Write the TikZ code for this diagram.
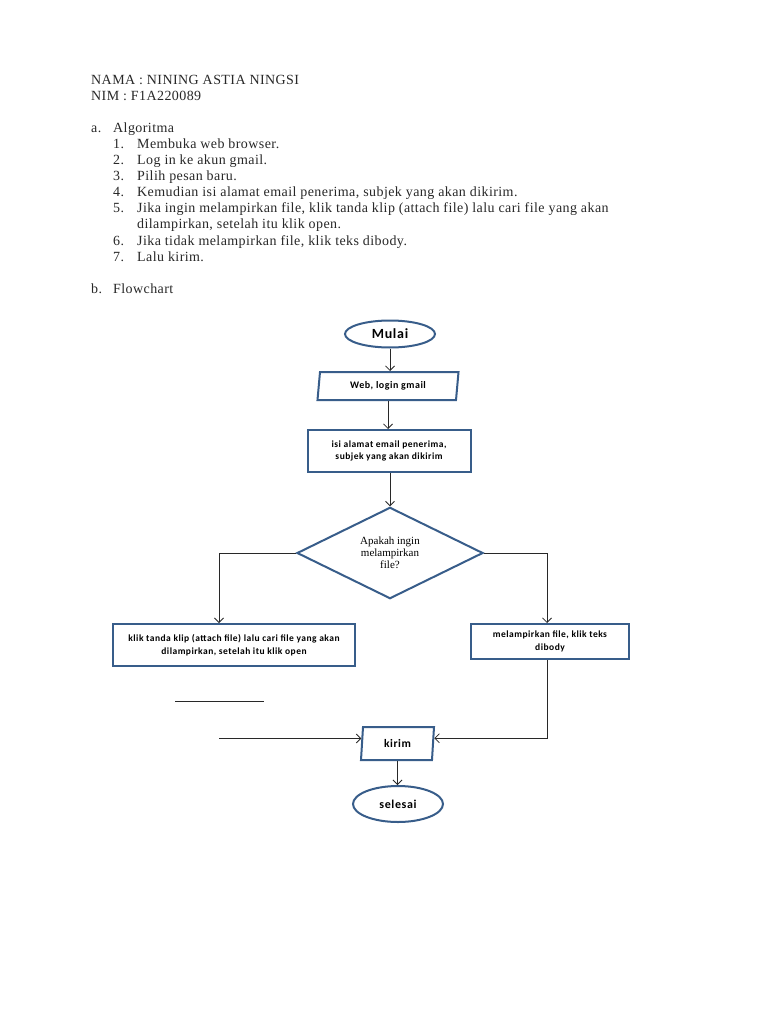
\documentclass[tikz,border=0pt]{standalone}
\usepackage{fontspec}
\setmainfont[LetterSpace=3]{Liberation Serif}
\newfontfamily\calfont[LetterSpace=5]{Carlito}
\newfontfamily\serifplain{Liberation Serif}
\usetikzlibrary{shapes.geometric,arrows.meta,calc}
\definecolor{outl}{RGB}{56,93,138}
\definecolor{ink}{RGB}{40,40,40}
\begin{document}
\begin{tikzpicture}[x=1pt,y=-1pt,
  txt/.style={anchor=base west,inner sep=0,font=\fontsize{14}{16}\selectfont,text=ink},
  shp/.style={draw=outl,line width=2pt,fill=white,align=center,inner sep=0,text=black,font=\calfont\bfseries\fontsize{9.5}{13.5}\selectfont},
  box/.style={shp,rectangle},
  term/.style={shp,ellipse},
  para/.style={shp,trapezium,trapezium stretches body=true},
  dia/.style={shp,diamond,font=\serifplain\fontsize{11}{12}\selectfont},
  conn/.style={draw=ink,line width=0.8pt,-{Straight Barb[length=4.5pt,width=9pt]}},
  plain/.style={draw=ink,line width=0.8pt}]
\fill[white] (0,0) rectangle (768,1024);
\useasboundingbox (0,0) rectangle (768,1024);
% header text
\node[txt] (t1) at (91,85) {NAMA : NINING ASTIA NINGSI};
\node[txt] (t2) at (91,101) {NIM : F1A220089};
\node[txt] (ta) at (91,133) {a.};
\node[txt] (tal) at (113,133) {Algoritma};
\node[txt] (n1) at (113,149) {1.};
\node[txt] (i1) at (137,149) {Membuka web browser.};
\node[txt] (n2) at (113,165) {2.};
\node[txt] (i2) at (137,165) {Log in ke akun gmail.};
\node[txt] (n3) at (113,181) {3.};
\node[txt] (i3) at (137,181) {Pilih pesan baru.};
\node[txt] (n4) at (113,197) {4.};
\node[txt] (i4) at (137,197) {Kemudian isi alamat email penerima, subjek yang akan dikirim.};
\node[txt] (n5) at (113,213) {5.};
\node[txt] (i5) at (137,213) {Jika ingin melampirkan file, klik tanda klip (attach file) lalu cari file yang akan};
\node[txt] (i5b) at (137,229) {dilampirkan, setelah itu klik open.};
\node[txt] (n6) at (113,245) {6.};
\node[txt] (i6) at (137,245) {Jika tidak melampirkan file, klik teks dibody.};
\node[txt] (n7) at (113,261) {7.};
\node[txt] (i7) at (137,261) {Lalu kirim.};
\node[txt] (tb) at (91,293) {b.};
\node[txt] (tfl) at (113,293) {Flowchart};
% flowchart
\node[term,minimum width=90,minimum height=27,font=\calfont\bfseries\fontsize{14}{16}\selectfont] (mulai) at (390,334) {Mulai};
\node[para,minimum width=141,minimum height=28,trapezium left angle=74,trapezium right angle=106,font=\calfont\bfseries\fontsize{10}{12}\selectfont] (web) at (388,386) {Web, login gmail};
\node[box,minimum width=163,minimum height=42,font=\calfont\bfseries\fontsize{9.5}{12.5}\selectfont] (isi) at (389,451) {isi alamat email penerima,\\subjek yang akan dikirim};
\node[dia,minimum width=186,minimum height=90] (dec) at (390,553) {Apakah ingin\\melampirkan\\file?};
\node[box,minimum width=242,minimum height=42] (klip) at (234,645) {klik tanda klip (attach file) lalu cari file yang akan\\dilampirkan, setelah itu klik open};
\node[box,minimum width=158,minimum height=35] (lamp) at (550,641.5) {melampirkan file, klik teks\\dibody};
\node[para,minimum width=73,minimum height=33,trapezium left angle=76,trapezium right angle=104,font=\calfont\bfseries\fontsize{11.5}{13}\selectfont] (kirim) at (397.5,743.5) {kirim};
\node[term,minimum width=90,minimum height=36,font=\calfont\bfseries\fontsize{12}{14}\selectfont] (sel) at (398,804) {selesai};
% connectors
\coordinate (lx) at (219,0);
\coordinate (rx) at (547,0);
\coordinate (lstart) at (219,738.5);
\coordinate (s1) at (175,701);
\coordinate (s2) at (264,701);
\coordinate (kr) at ($(kirim.top right corner)!0.35!(kirim.bottom right corner)$);
\coordinate (kl) at ($(kirim.top left corner)!0.35!(kirim.bottom left corner)$);
\draw[conn] (mulai.south) -- (mulai.south |- web.north);
\draw[conn] (web.south) -- (web.south |- isi.north);
\draw[conn] (isi.south -| dec.north) -- (dec.north);
\draw[conn] (dec.west) -- (dec.west -| lx) -- (lx |- klip.north);
\draw[conn] (dec.east) -- (dec.east -| rx) -- (rx |- lamp.north);
\draw[conn] (rx |- lamp.south) -- (rx |- kr) -- (kr);
\draw[conn] (lstart) -- (lstart -| kl);
\draw[plain] (s1) -- (s2);
\draw[conn] (kirim.south) -- (kirim.south |- sel.north);
\end{tikzpicture}
\end{document}
